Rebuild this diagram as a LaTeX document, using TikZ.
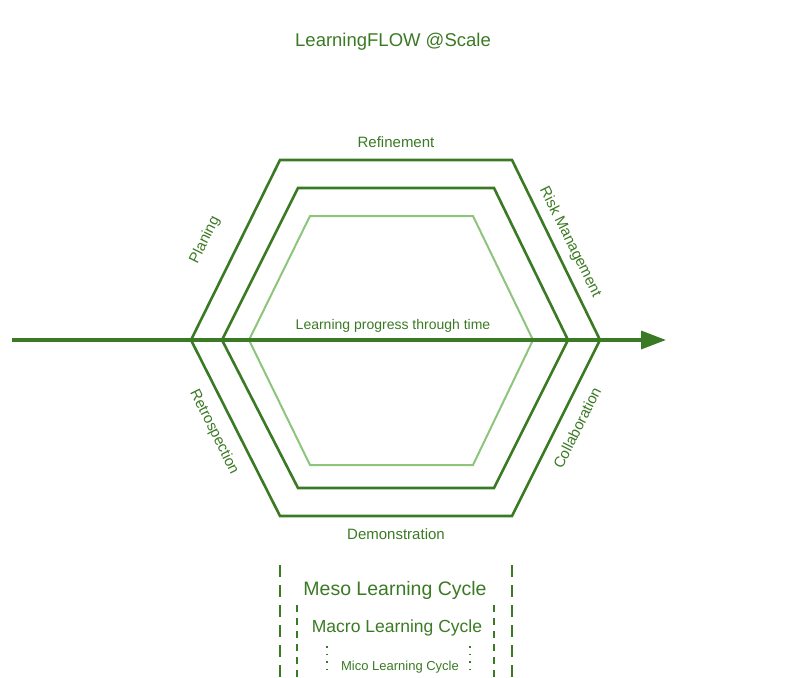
\documentclass[tikz,border=0pt]{standalone}
\usepackage{fontspec}
\setmainfont{Liberation Sans}
\usetikzlibrary{arrows.meta}
\definecolor{dg}{HTML}{3B7A24}
\definecolor{lg}{HTML}{8CC57B}
\begin{document}
\begin{tikzpicture}[x=1pt,y=-1pt,
  hexd/.style={draw=dg,line width=2.6pt,line join=miter},
  hexl/.style={draw=lg,line width=2pt},
  lbl/.style={text=dg,font=\fontsize{15}{17}\selectfont,inner sep=1pt}]
\useasboundingbox (0,0) rectangle (791,677);
\coordinate (ae) at (12,340); \coordinate (af) at (666,340);
\draw[hexd] (280,160)--(512,160)--(600,340)--(512,516)--(280,516)--(191,340)--cycle;
\draw[hexd] (298,188)--(494,188)--(568,340)--(494,488)--(298,488)--(222,340)--cycle;
\draw[hexl] (310,216)--(473,216)--(533,340)--(473,465)--(310,465)--(249,340)--cycle;
\draw[dg,line width=3.5pt,-{Triangle[length=25pt,width=18pt]}] (ae)--(af);
\node[lbl,font=\fontsize{18.5}{20}\selectfont] (title) at (393,42) {LearningFLOW @Scale};
\node[lbl] (ref) at (396,142) {Refinement};
\node[lbl] (dem) at (396,534) {Demonstration};
\node[lbl,font=\fontsize{14}{16}\selectfont] (prog) at (393,326) {Learning progress through time};
\node[lbl,rotate=63.5] (plan) at (205,240) {Planing};
\node[lbl,rotate=-63.5] (risk) at (570,242) {Risk Management};
\node[lbl,rotate=-63.5] (retro) at (214,432) {Retrospection};
\node[lbl,rotate=63.5] (coll) at (577,428) {Collaboration};
\node[lbl,font=\fontsize{19.5}{22}\selectfont] (meso) at (395,590) {Meso Learning Cycle};
\node[lbl,font=\fontsize{17.5}{20}\selectfont] (macro) at (397,628) {Macro Learning Cycle};
\node[lbl,font=\fontsize{13}{15}\selectfont] (mico) at (400,667) {Mico Learning Cycle};
\coordinate (m1a) at (280,565); \coordinate (m1b) at (280,677);
\coordinate (m2a) at (512,565); \coordinate (m2b) at (512,677);
\coordinate (c1a) at (297,605); \coordinate (c1b) at (297,677);
\coordinate (c2a) at (494,605); \coordinate (c2b) at (494,677);
\coordinate (d1a) at (327,646); \coordinate (d1b) at (327,674);
\coordinate (d2a) at (470,646); \coordinate (d2b) at (470,674);
\draw[dg,line width=2pt,dash pattern=on 12pt off 8pt] (m1a)--(m1b) (m2a)--(m2b);
\draw[dg,line width=1.5pt,dash pattern=on 7pt off 6pt] (c1a)--(c1b) (c2a)--(c2b);
\draw[dg,line width=1.5pt,dash pattern=on 1.5pt off 6pt] (d1a)--(d1b) (d2a)--(d2b);
\end{tikzpicture}
\end{document}
